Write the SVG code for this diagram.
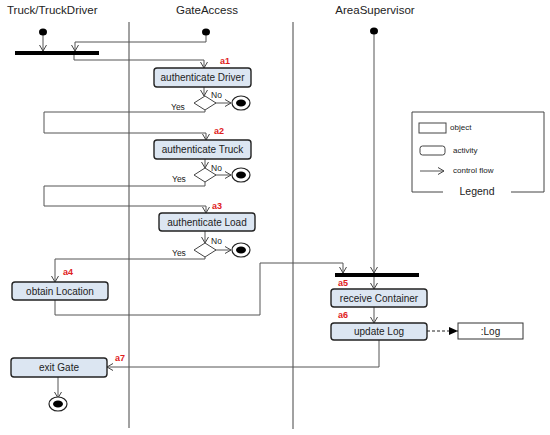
<svg xmlns="http://www.w3.org/2000/svg" width="550" height="435" viewBox="0 0 550 435">
<style>
text{font-family:"Liberation Sans",Arial,sans-serif;fill:#222}
.title{font-size:11.5px}
.lbl{font-size:10px;text-anchor:middle}
.act{fill:#dce6f2;stroke:#222;stroke-width:1.4}
.tag{font-size:9px;font-weight:bold;fill:#e0201c}
.small{font-size:8.5px}
.lane{stroke:#444;stroke-width:1;fill:none}
.flow{stroke:#555;stroke-width:1;fill:none;marker-end:url(#open)}
.bar{fill:#000}
.leg{font-size:8px}
</style>
<defs>
<marker id="open" markerUnits="userSpaceOnUse" markerWidth="8" markerHeight="8" refX="6" refY="3.5" orient="auto" overflow="visible">
<path d="M0,0 L6,3.5 L0,7" fill="none" stroke="#444" stroke-width="1"/>
</marker>
<marker id="solid" markerUnits="userSpaceOnUse" markerWidth="10" markerHeight="10" refX="9" refY="4" orient="auto">
<path d="M0,0 L9,4 L0,8 Z" fill="#000"/>
</marker>
</defs>
<rect width="550" height="435" fill="#fff"/>
<g id="lanes">
<text class="title" x="7" y="14">Truck/TruckDriver</text>
<text class="title" x="207" y="14" text-anchor="middle">GateAccess</text>
<text class="title" x="375" y="14" text-anchor="middle">AreaSupervisor</text>
<line class="lane" x1="129" y1="22" x2="129" y2="428"/>
<line class="lane" x1="293" y1="22" x2="293" y2="429"/>
</g>
<g id="connectors">
<path class="flow" d="M43,33 V51"/>
<path class="flow" d="M206,33 V42 H75 V51"/>
<path class="flow" d="M74,55 V60 H204 V68"/>
<path class="flow" d="M204,87 V96"/>
<path class="flow" d="M215,103 H231"/>
<path class="flow" d="M205,110 V112 H44 V133 H206 V140"/>
<path class="flow" d="M205,159 V168"/>
<path class="flow" d="M215,175 H231"/>
<path class="flow" d="M205,182 V186 H44 V206 H206 V213"/>
<path class="flow" d="M205,231 V243"/>
<path class="flow" d="M215,250 H231"/>
<path class="flow" d="M205,257 V259 H55 V282"/>
<path class="flow" d="M55,300 V315 H260 V263 H343 V273"/>
<path class="flow" d="M374,32 V273"/>
<path class="flow" d="M374,277 V289"/>
<path class="flow" d="M374,307 V323"/>
<path d="M427,331 H458" stroke="#222" stroke-width="1" stroke-dasharray="3,2" fill="none" marker-end="url(#solid)"/>
<path class="flow" d="M379,340 V367 H107"/>
<path class="flow" d="M58,377 V398"/>
</g>
<g id="start1"><ellipse cx="43" cy="32" rx="4" ry="3.5" fill="#000"/></g>
<g id="start2"><ellipse cx="206" cy="32" rx="4" ry="3.5" fill="#000"/></g>
<g id="start3"><ellipse cx="374" cy="31" rx="4" ry="3.5" fill="#000"/></g>
<g id="fork1"><rect class="bar" x="15" y="51" width="84" height="4"/></g>
<g id="fork2"><rect class="bar" x="335" y="273" width="84" height="4"/></g>
<g id="a1">
<rect class="act" x="154" y="68" width="97" height="19" rx="3"/>
<text class="lbl" x="202.5" y="81">authenticate Driver</text>
<text class="tag" x="220" y="64">a1</text>
</g>
<g id="d1">
<polygon points="205,96 216,103 205,110 194,103" fill="#fff" stroke="#444" stroke-width="1"/>
<text class="small" x="211" y="98">No</text>
<text class="small" x="171" y="110">Yes</text>
</g>
<g id="end1"><ellipse cx="241" cy="103" rx="9" ry="7" fill="#fff" stroke="#222" stroke-width="1.2"/><ellipse cx="241" cy="103" rx="5" ry="3.5" fill="#000"/></g>
<g id="a2">
<rect class="act" x="154" y="140" width="97" height="19" rx="3"/>
<text class="lbl" x="202.5" y="153">authenticate Truck</text>
<text class="tag" x="214" y="134">a2</text>
</g>
<g id="d2">
<polygon points="205,168 216,175 205,182 194,175" fill="#fff" stroke="#444" stroke-width="1"/>
<text class="small" x="211" y="171">No</text>
<text class="small" x="172" y="182">Yes</text>
</g>
<g id="end2"><ellipse cx="241" cy="175" rx="9" ry="7" fill="#fff" stroke="#222" stroke-width="1.2"/><ellipse cx="241" cy="175" rx="5" ry="3.5" fill="#000"/></g>
<g id="a3">
<rect class="act" x="159" y="213" width="96" height="18" rx="3"/>
<text class="lbl" x="207" y="225.5">authenticate Load</text>
<text class="tag" x="212" y="209">a3</text>
</g>
<g id="d3">
<polygon points="205,243 216,250 205,257 194,250" fill="#fff" stroke="#444" stroke-width="1"/>
<text class="small" x="211" y="244">No</text>
<text class="small" x="172" y="256">Yes</text>
</g>
<g id="end3"><ellipse cx="241" cy="250" rx="9" ry="7" fill="#fff" stroke="#222" stroke-width="1.2"/><ellipse cx="241" cy="250" rx="5" ry="3.5" fill="#000"/></g>
<g id="a4">
<rect class="act" x="12" y="282" width="96" height="18" rx="3"/>
<text class="lbl" x="60" y="294.5">obtain Location</text>
<text class="tag" x="63" y="275">a4</text>
</g>
<g id="a5">
<rect class="act" x="331" y="289" width="96" height="18" rx="3"/>
<text class="lbl" x="379" y="301.5">receive Container</text>
<text class="tag" x="338" y="286">a5</text>
</g>
<g id="a6">
<rect class="act" x="331" y="323" width="96" height="17" rx="3"/>
<text class="lbl" x="379" y="335">update Log</text>
<text class="tag" x="338" y="318">a6</text>
</g>
<g id="log">
<rect x="458" y="323" width="65" height="16" fill="#fff" stroke="#333" stroke-width="1"/>
<text class="lbl" x="490.5" y="334.5">:Log</text>
</g>
<g id="a7">
<rect class="act" x="11" y="358" width="96" height="19" rx="3"/>
<text class="lbl" x="59" y="371">exit Gate</text>
<text class="tag" x="115" y="361">a7</text>
</g>
<g id="end4"><ellipse cx="58" cy="404" rx="9" ry="7" fill="#fff" stroke="#222" stroke-width="1.2"/><ellipse cx="58" cy="404" rx="5" ry="3.5" fill="#000"/></g>
<g id="legend">
<path d="M443,192 H412 V112 H544 V192 H511" fill="none" stroke="#444" stroke-width="1"/>
<rect x="419" y="123" width="27" height="10" fill="#fff" stroke="#444" stroke-width="1"/>
<text class="leg" x="450" y="130">object</text>
<rect x="420" y="146" width="25" height="9" rx="2.5" fill="#fff" stroke="#444" stroke-width="1"/>
<text class="leg" x="453" y="153">activity</text>
<path class="flow" d="M420,171 H444"/>
<text class="leg" x="453" y="173">control flow</text>
<text x="477" y="195" text-anchor="middle" font-size="10.5">Legend</text>
</g>
</svg>
